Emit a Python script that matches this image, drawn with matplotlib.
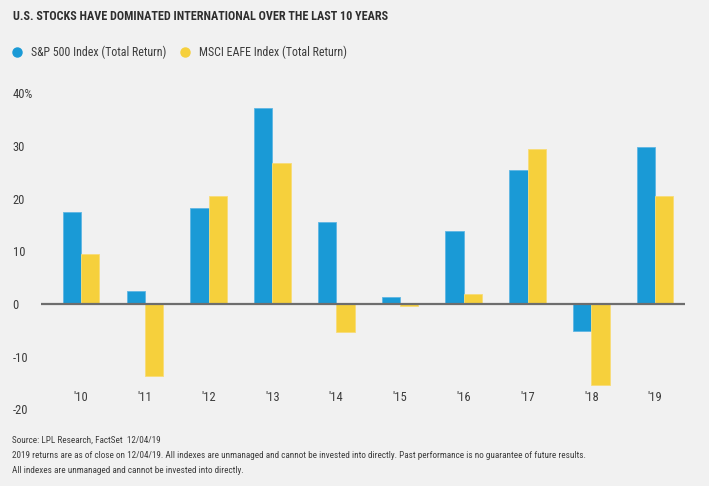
import matplotlib.pyplot as plt
import numpy as np
from matplotlib.lines import Line2D

years = ["'10", "'11", "'12", "'13", "'14", "'15", "'16", "'17", "'18", "'19"]
sp500 = [17.4, 2.4, 18.3, 37.3, 15.6, 1.4, 13.9, 25.4, -5.2, 29.8]
eafe = [9.5, -13.7, 20.5, 26.7, -5.3, -0.3, 1.9, 29.4, -15.4, 20.5]
yticks = [-20, -10, 0, 10, 20, 30, 40]
ytick_labels = ['-20', '-10', '0', '10', '20', '30', '40%']

blue = '#1a9ad6'
yellow = '#f6d03c'
bg = '#f1f1f1'
txt = '#3c3c3c'

plt.rcParams['font.family'] = ['Roboto Condensed', 'Liberation Sans', 'DejaVu Sans']

W, H = 709, 486
fig = plt.figure(figsize=(W / 100, H / 100), dpi=100, facecolor=bg)
ax = fig.add_axes([41 / W, (H - 409.4) / H, (685 - 41) / W, (409.4 - 93.3) / H])
ax.set_facecolor(bg)

x = np.arange(len(years))
bw = 0.287
ax.bar(x - bw / 2, sp500, bw, color=blue, edgecolor='#5fb6e3', linewidth=0.6)
ax.bar(x + bw / 2, eafe, bw, color=yellow, edgecolor='#f8dc78', linewidth=0.6)
ax.axhline(0, color='#6d6d6d', lw=1.6)

ax.set_xlim(-0.63, 9.47)
ax.set_ylim(-20, 40)
for s in ax.spines.values():
    s.set_visible(False)

ax.set_yticks(yticks)
ax.set_yticklabels(ytick_labels, ha='left')
ax.tick_params(axis='y', length=0, pad=20.5, labelsize=9, labelcolor=txt)
ax.set_xticks(x)
ax.set_xticklabels(years)
ax.tick_params(axis='x', length=0, pad=-13, labelsize=9, labelcolor=txt)

# title
fig.text(13 / W, 1 - 17 / H, 'U.S. STOCKS HAVE DOMINATED INTERNATIONAL OVER THE LAST 10 YEARS',
         fontsize=8.7, fontweight='bold', color='#2e2e2e', va='center', ha='left')

# legend
for cx, tx, col, lab in [(17, 31, blue, 'S&P 500 Index (Total Return)'),
                         (184.5, 199, yellow, 'MSCI EAFE Index (Total Return)')]:
    fig.add_artist(Line2D([cx / W], [1 - 52 / H], marker='o', markersize=6.5, color=col,
                          linestyle='none', transform=fig.transFigure))
    fig.text(tx / W, 1 - 52 / H, lab, fontsize=8.6, color=txt, va='center', ha='left')

# footnotes
notes = ['Source: LPL Research, FactSet  12/04/19',
         '2019 returns are as of close on 12/04/19. All indexes are unmanaged and cannot be invested into directly. Past performance is no guarantee of future results.',
         'All indexes are unmanaged and cannot be invested into directly.']
for i, n in enumerate(notes):
    fig.text(12.5 / W, 1 - (440 + 15.3 * i) / H, n, fontsize=6.6, color=txt, va='center', ha='left')

fig.savefig('out.png', dpi=100, facecolor=bg)
